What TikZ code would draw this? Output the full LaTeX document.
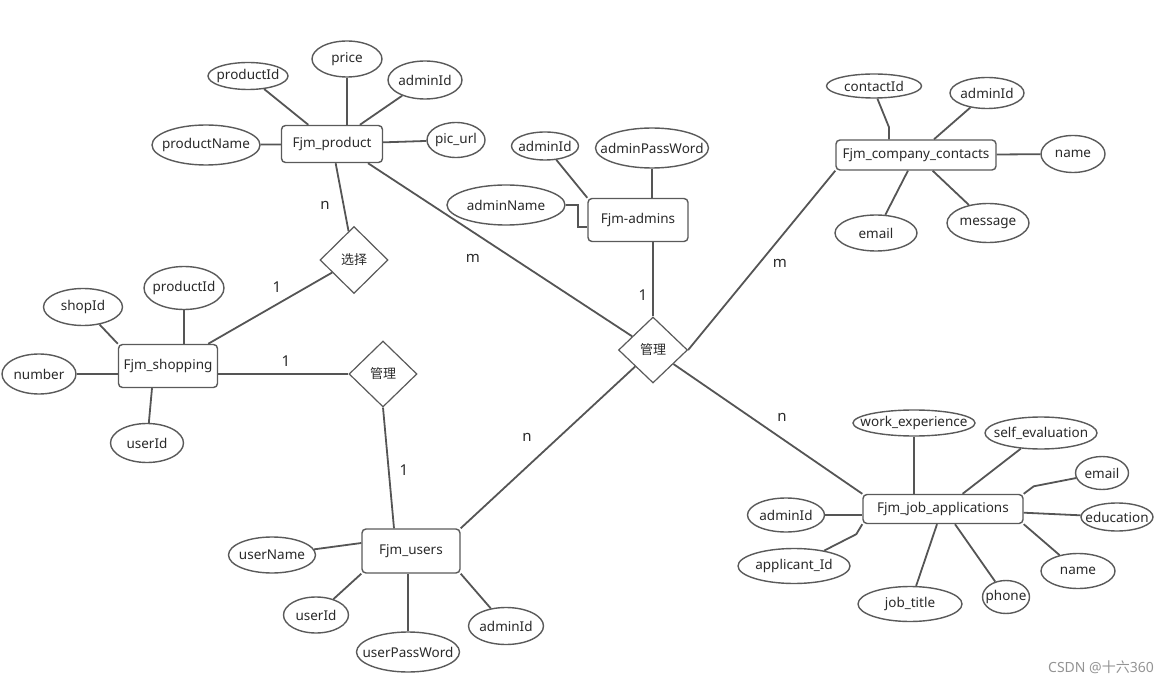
\documentclass[tikz,border=0pt]{standalone}
\usepackage{fontspec}
\setmainfont{Noto Sans}
\newfontfamily\cjk{Noto Sans CJK SC}
\usetikzlibrary{shapes.geometric}
\definecolor{ln}{HTML}{555555}
\definecolor{bd}{HTML}{5A5A5A}
\definecolor{tx}{HTML}{2A2A2A}
\newcommand\attxt[1]{\makebox[0pt]{#1}}
\begin{document}
\begin{tikzpicture}[x=1pt,y=-1pt,
 ent/.style={draw=bd,line width=1.4pt,rounded corners=4pt,fill=white,font=\fontsize{13.5}{15}\selectfont,inner sep=0pt,text=tx},
 attr/.style={ellipse,draw=bd,line width=1.4pt,fill=white,font=\fontsize{13.5}{15}\selectfont,inner sep=0pt,text=tx},
 rel/.style={diamond,draw=bd,line width=1.2pt,fill=white,font=\cjk\fontsize{13}{15}\selectfont,inner sep=0pt,text=tx},
 conn/.style={draw=ln,line width=1.8pt},
 card/.style={font=\fontsize{15}{17}\selectfont,text=tx}]
\useasboundingbox (0,0) rectangle (1172,684);
% entities
\node[ent,minimum width=101pt,minimum height=37pt] (prod) at (332,144) {Fjm\_product};
\node[ent,minimum width=100pt,minimum height=43pt] (adm) at (638,220) {Fjm-admins};
\node[ent,minimum width=160pt,minimum height=30pt] (comp) at (916,155) {Fjm\_company\_contacts};
\node[ent,minimum width=99pt,minimum height=43pt] (shop) at (168,366) {Fjm\_shopping};
\node[ent,minimum width=98pt,minimum height=44pt] (users) at (411,551) {Fjm\_users};
\node[ent,minimum width=160pt,minimum height=29pt] (job) at (943,509) {Fjm\_job\_applications};
% relations
\node[rel,minimum width=68pt,minimum height=67pt] (sel) at (354,260) {选择};
\node[rel,minimum width=68pt,minimum height=66pt] (mgl) at (383,374) {管理};
\node[rel,minimum width=69pt,minimum height=66pt] (mgc) at (653,350) {管理};
% product attributes
\node[attr,minimum width=80pt,minimum height=27pt] (p1) at (248,76) {\attxt{productId}};
\node[attr,minimum width=70pt,minimum height=36pt] (p2) at (347,59) {\attxt{price}};
\node[attr,minimum width=74pt,minimum height=38pt] (p3) at (425,80) {\attxt{adminId}};
\node[attr,minimum width=108pt,minimum height=40pt] (p4) at (206,145) {\attxt{productName}};
\node[attr,minimum width=58pt,minimum height=35pt] (p5) at (456,140) {\attxt{pic\_url}};
% admin attributes
\node[attr,minimum width=67pt,minimum height=28pt] (a1) at (545,146) {\attxt{adminId}};
\node[attr,minimum width=113pt,minimum height=40pt] (a2) at (652,148) {\attxt{adminPassWord}};
\node[attr,minimum width=118pt,minimum height=40pt] (a3) at (506,205) {\attxt{adminName}};
% contacts attributes
\node[attr,minimum width=95pt,minimum height=24pt] (c1) at (874,86) {\attxt{contactId}};
\node[attr,minimum width=74pt,minimum height=31pt] (c2) at (987,93) {\attxt{adminId}};
\node[attr,minimum width=64pt,minimum height=37pt] (c3) at (1073,154) {\attxt{name}};
\node[attr,minimum width=82pt,minimum height=36pt] (c4) at (876,233) {\attxt{email}};
\node[attr,minimum width=82pt,minimum height=39pt] (c5) at (988,223) {\attxt{message}};
% shopping attributes
\node[attr,minimum width=79pt,minimum height=37pt] (s1) at (83,307) {\attxt{shopId}};
\node[attr,minimum width=80pt,minimum height=43pt] (s2) at (184,288) {\attxt{productId}};
\node[attr,minimum width=74pt,minimum height=40pt] (s3) at (39,374) {\attxt{number}};
\node[attr,minimum width=73pt,minimum height=39pt] (s4) at (147,443) {\attxt{userId}};
% users attributes
\node[attr,minimum width=87pt,minimum height=36pt] (u1) at (272,555) {\attxt{userName}};
\node[attr,minimum width=65pt,minimum height=36pt] (u2) at (316,615) {\attxt{userId}};
\node[attr,minimum width=103pt,minimum height=40pt] (u3) at (408,652) {\attxt{userPassWord}};
\node[attr,minimum width=75pt,minimum height=37pt] (u4) at (506,626) {\attxt{adminId}};
% job attributes
\node[attr,minimum width=122pt,minimum height=26pt] (j1) at (914,423) {\attxt{work\_experience}};
\node[attr,minimum width=112pt,minimum height=32pt] (j2) at (1041,433) {\attxt{self\_evaluation}};
\node[attr,minimum width=53pt,minimum height=33pt] (j3) at (1102,473) {\attxt{email}};
\node[attr,minimum width=72pt,minimum height=28pt] (j4) at (1117,517) {\attxt{education}};
\node[attr,minimum width=74pt,minimum height=35pt] (j5) at (1078,571) {\attxt{name}};
\node[attr,minimum width=47pt,minimum height=33pt] (j6) at (1006,597) {\attxt{phone}};
\node[attr,minimum width=104pt,minimum height=35pt] (j7) at (910,604) {\attxt{job\_title}};
\node[attr,minimum width=112pt,minimum height=35pt] (j8) at (794,566) {\attxt{applicant\_Id}};
\node[attr,minimum width=77pt,minimum height=34pt] (j9) at (786,515) {\attxt{adminId}};
% attribute connectors
\draw[conn] (p1) -- (prod);
\draw[conn] (p2) -- (p2 |- prod.north);
\draw[conn] (p3) -- (prod);
\draw[conn] (p4) -- (prod);
\draw[conn] (p5) -- (prod);
\draw[conn] (a1) -- (adm.north west);
\draw[conn] (a2) -- (a2 |- adm.north);
\draw[conn] (a3.east) -- ++(12,0) |- ([yshift=-7pt]adm.west);
\draw[conn] (c1.-75) -- ([xshift=-27pt,yshift=12pt]comp.north) -- ([xshift=-27pt]comp.north);
\draw[conn] (c2) -- (comp);
\draw[conn] (c3) -- (comp);
\draw[conn] (c4) -- (comp);
\draw[conn] (c5) -- (comp);
\draw[conn] (s1) -- (shop.north west);
\draw[conn] (s2) -- (s2 |- shop.north);
\draw[conn] (s3) -- (s3 -| shop.west);
\draw[conn] (s4) -- ([xshift=-16pt]shop.south);
\draw[conn] (u1) -- ([yshift=8pt]users.west);
\draw[conn] (u2) -- (users.south west);
\draw[conn] (u3) -- (u3 |- users.south);
\draw[conn] (u4) -- (users.south east);
\draw[conn] (j1) -- (j1 |- job.north);
\draw[conn] (j2) -- (job);
\draw[conn] (j3) -- ([xshift=10pt,yshift=7.5pt]job.north east) -- (job.north east);
\draw[conn] (j4) -- (job);
\draw[conn] (j5) -- (job.south east);
\draw[conn] (j6) -- ([xshift=12pt]job.south);
\draw[conn] (j7) -- ([xshift=-6pt]job.south);
\draw[conn] (j8) -- ([xshift=-6pt,yshift=-10pt]job.south west) -- (job.south west);
\draw[conn] (j9) -- (j9 -| job.west);
% relationship connectors
\draw[conn] (prod) -- (sel);
\draw[conn] ([xshift=36pt]prod.south) -- (mgc);
\draw[conn] ([xshift=-10pt]shop.north east) -- (sel);
\draw[conn] (mgl) -- (mgl -| shop.east);
\draw[conn] (mgl.south) -- ([xshift=-17pt]users.north);
\draw[conn] (mgc) -- (mgc |- adm.south);
\draw[conn] (mgc.east) -- (comp.south west);
\draw[conn] (mgc) -- (job.north west);
\draw[conn] (mgc) -- (users.north east);
% cardinalities
\node[card] (k1) at (325,205) {n};
\node[card] (k2) at (277,287) {1};
\node[card] (k3) at (286,361) {1};
\node[card] (k4) at (404,470) {1};
\node[card] (k5) at (473,258) {m};
\node[card] (k6) at (643,295) {1};
\node[card] (k7) at (780,263) {m};
\node[card] (k8) at (782,417) {n};
\node[card] (k9) at (527,437) {n};
% watermark
\node[font=\fontsize{14}{16}\selectfont,text=black!42] (wm) at (1101,667) {CSDN @{\cjk 十六}360};
\end{tikzpicture}
\end{document}
